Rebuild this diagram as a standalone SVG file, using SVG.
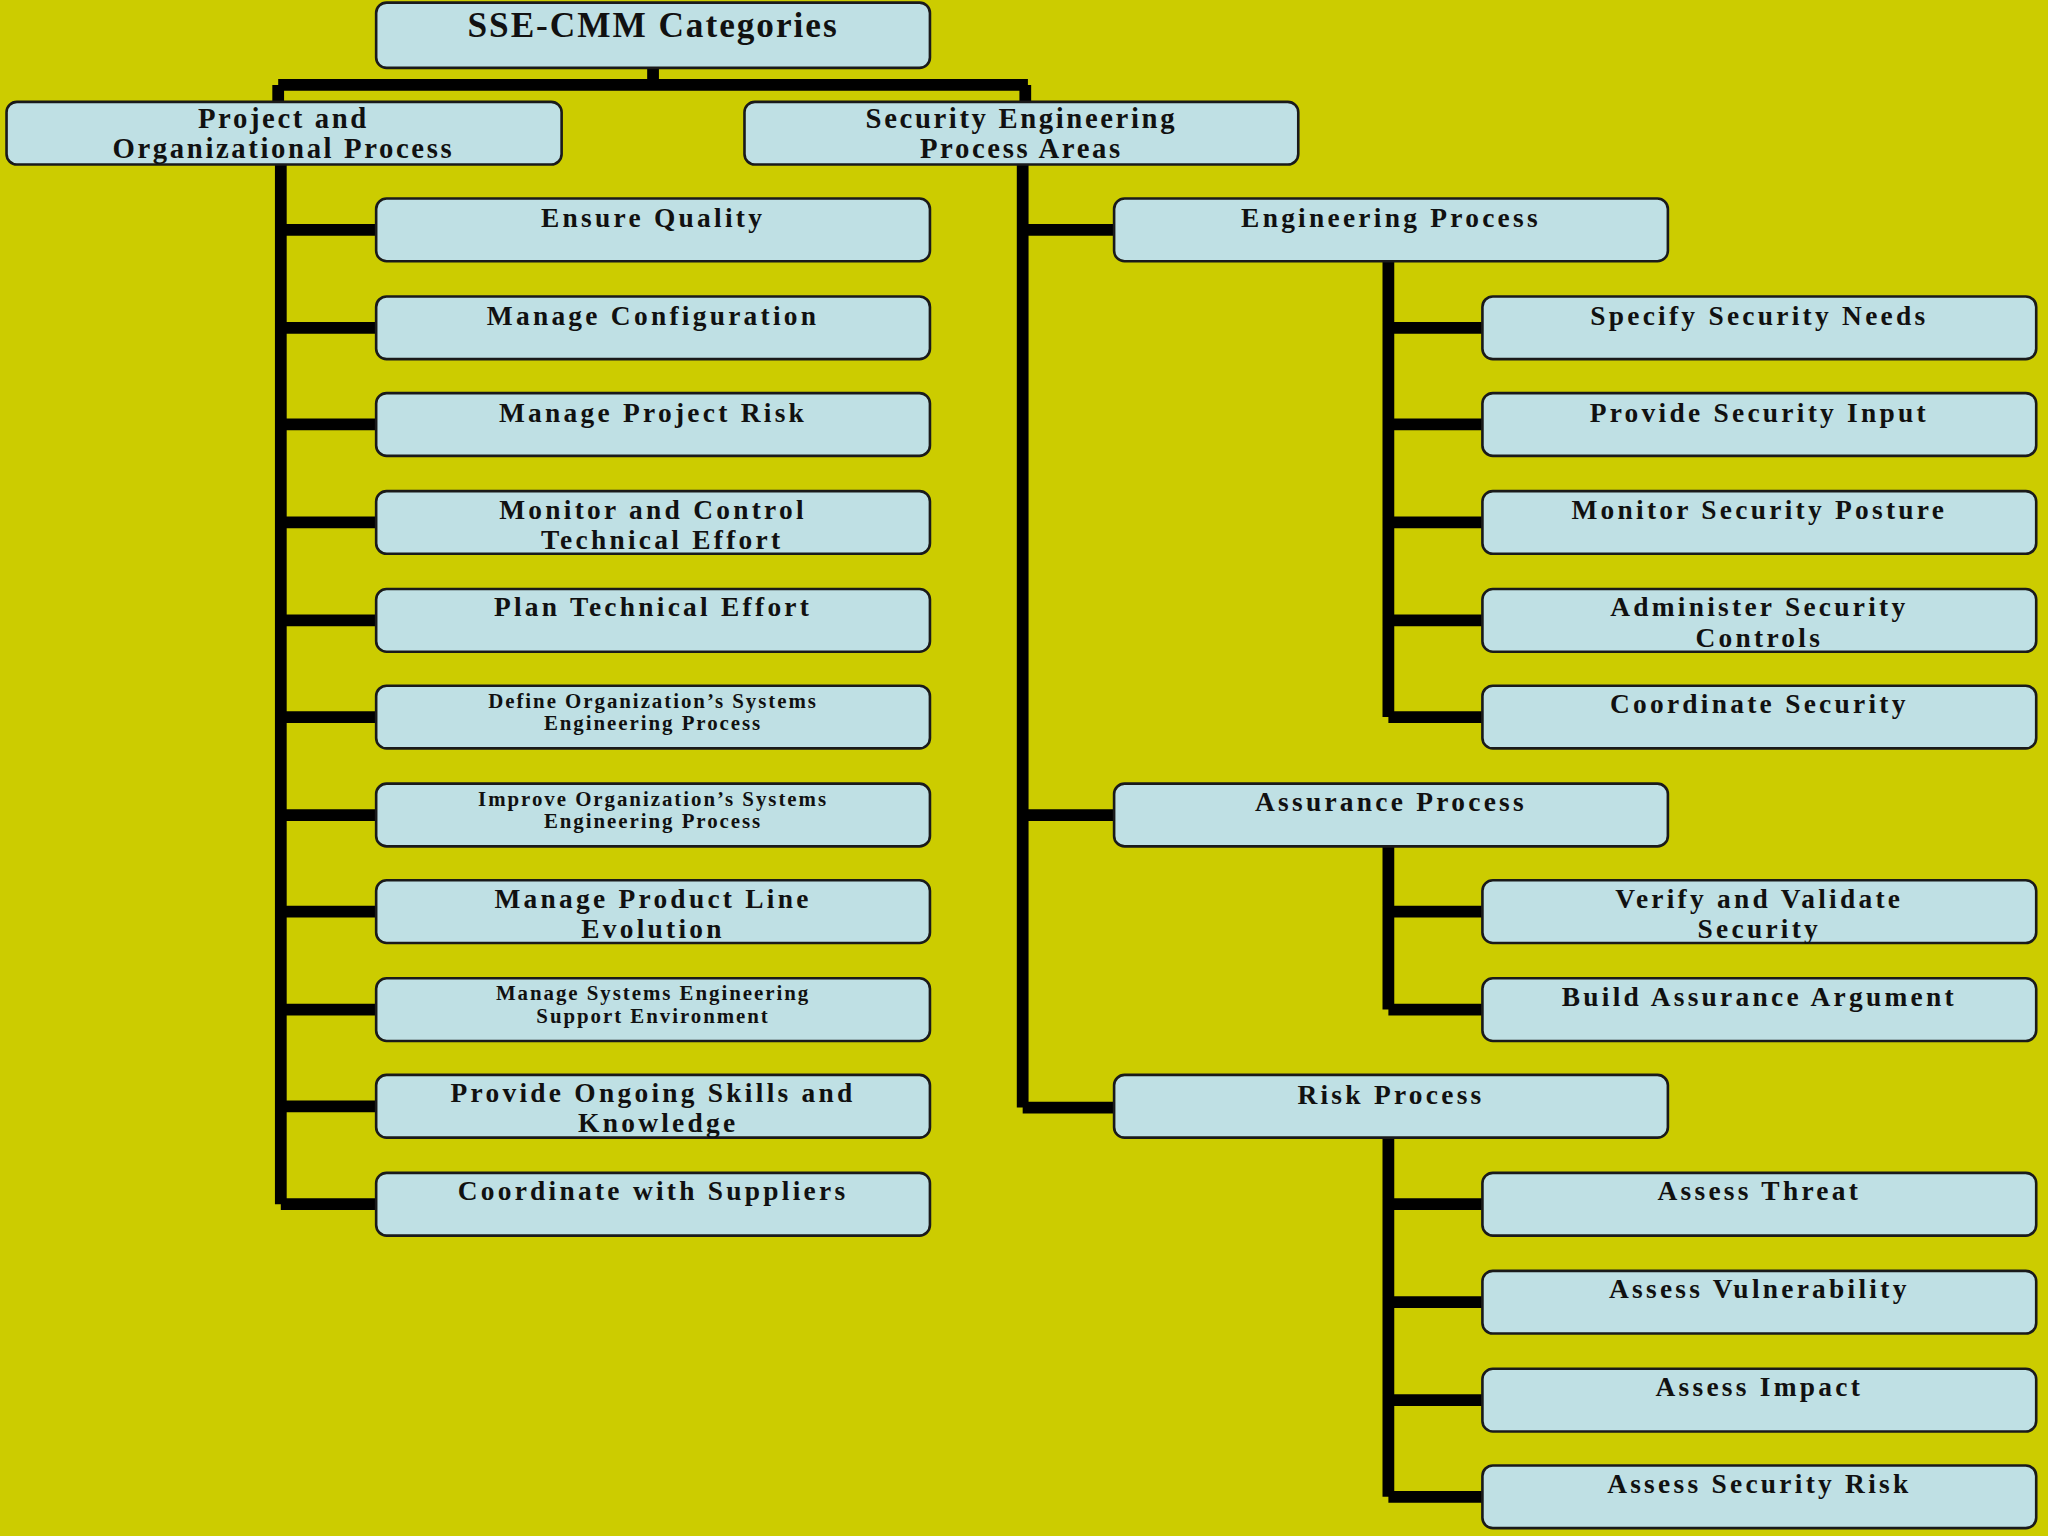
<svg xmlns="http://www.w3.org/2000/svg" width="2048" height="1536" viewBox="0 0 2048 1536">
<style>
.b{fill:#bfe0e4;stroke:#1a1a1a;stroke-width:2}
text{font-family:"Liberation Serif","Times New Roman",serif;font-size:21px;text-anchor:middle;fill:#111;letter-spacing:2.5px;font-weight:600}
.s{font-size:16px;letter-spacing:1.5px}
.h{font-size:22px;font-weight:bold;letter-spacing:2px}
.c{stroke:#000;stroke-width:9;fill:none}
</style>
<rect width="2048" height="1536" fill="#cccc00"/>
<g transform="scale(1.3061)">
<g id="connectors" class="c">
<path d="M500 52V65M213 65H787M213 65V78M785 65V78"/>
<path d="M215 126V922M215 176H288M215 251H288M215 325H288M215 400H288M215 475H288M215 549H288M215 624H288M215 698H288M215 773H288M215 847H288M215 922H288"/>
<path d="M783 126V848M783 176H853M783 624H853M783 848H853"/>
<path d="M1063 200V549M1063 251H1135M1063 325H1135M1063 400H1135M1063 475H1135M1063 549H1135"/>
<path d="M1063 648V773M1063 698H1135M1063 773H1135"/>
<path d="M1063 872V1146M1063 922H1135M1063 997H1135M1063 1072H1135M1063 1146H1135"/>
</g>
<g id="title"><rect class="b" x="288" y="2" width="424" height="50" rx="8"/><text class="h" x="500" y="28" style="font-size:27px;letter-spacing:1.5px">SSE-CMM Categories</text></g>
<g id="poph"><rect class="b" x="5" y="78" width="425" height="48" rx="8"/><text class="h" x="217" y="98">Project and</text><text class="h" x="217" y="121">Organizational Process</text></g>
<g id="seph"><rect class="b" x="570" y="78" width="424" height="48" rx="8"/><text class="h" x="782" y="98">Security Engineering</text><text class="h" x="782" y="121">Process Areas</text></g>
<g id="l1"><rect class="b" x="288" y="152" width="424" height="48" rx="8"/><text x="500" y="174">Ensure Quality</text></g>
<g id="l2"><rect class="b" x="288" y="227" width="424" height="48" rx="8"/><text x="500" y="249">Manage Configuration</text></g>
<g id="l3"><rect class="b" x="288" y="301" width="424" height="48" rx="8"/><text x="500" y="323">Manage Project Risk</text></g>
<g id="l4"><rect class="b" x="288" y="376" width="424" height="48" rx="8"/><text x="500" y="397">Monitor and Control</text><text x="507" y="420">Technical  Effort</text></g>
<g id="l5"><rect class="b" x="288" y="451" width="424" height="48" rx="8"/><text x="500" y="472">Plan Technical Effort</text></g>
<g id="l6"><rect class="b" x="288" y="525" width="424" height="48" rx="8"/><text class="s" x="500" y="542">Define Organization’s Systems</text><text class="s" x="500" y="559">Engineering Process</text></g>
<g id="l7"><rect class="b" x="288" y="600" width="424" height="48" rx="8"/><text class="s" x="500" y="617">Improve Organization’s Systems</text><text class="s" x="500" y="634">Engineering Process</text></g>
<g id="l8"><rect class="b" x="288" y="674" width="424" height="48" rx="8"/><text x="500" y="695">Manage Product Line</text><text x="500" y="718">Evolution</text></g>
<g id="l9"><rect class="b" x="288" y="749" width="424" height="48" rx="8"/><text class="s" x="500" y="766">Manage Systems Engineering</text><text class="s" x="500" y="783">Support Environment</text></g>
<g id="l10"><rect class="b" x="288" y="823" width="424" height="48" rx="8"/><text x="500" y="844">Provide Ongoing Skills and</text><text x="504" y="867">Knowledge</text></g>
<g id="l11"><rect class="b" x="288" y="898" width="424" height="48" rx="8"/><text x="500" y="919">Coordinate with Suppliers</text></g>
<g id="eng"><rect class="b" x="853" y="152" width="424" height="48" rx="8"/><text x="1065" y="174">Engineering Process</text></g>
<g id="asp"><rect class="b" x="853" y="600" width="424" height="48" rx="8"/><text x="1065" y="621">Assurance Process</text></g>
<g id="rsk"><rect class="b" x="853" y="823" width="424" height="48" rx="8"/><text x="1065" y="845">Risk Process</text></g>
<g id="r1"><rect class="b" x="1135" y="227" width="424" height="48" rx="8"/><text x="1347" y="249">Specify Security Needs</text></g>
<g id="r2"><rect class="b" x="1135" y="301" width="424" height="48" rx="8"/><text x="1347" y="323">Provide Security Input</text></g>
<g id="r3"><rect class="b" x="1135" y="376" width="424" height="48" rx="8"/><text x="1347" y="397">Monitor Security Posture</text></g>
<g id="r4"><rect class="b" x="1135" y="451" width="424" height="48" rx="8"/><text x="1347" y="472">Administer Security</text><text x="1347" y="495">Controls</text></g>
<g id="r5"><rect class="b" x="1135" y="525" width="424" height="48" rx="8"/><text x="1347" y="546">Coordinate Security</text></g>
<g id="r6"><rect class="b" x="1135" y="674" width="424" height="48" rx="8"/><text x="1347" y="695">Verify and Validate</text><text x="1347" y="718">Security</text></g>
<g id="r7"><rect class="b" x="1135" y="749" width="424" height="48" rx="8"/><text x="1347" y="770">Build Assurance Argument</text></g>
<g id="r8"><rect class="b" x="1135" y="898" width="424" height="48" rx="8"/><text x="1347" y="919">Assess Threat</text></g>
<g id="r9"><rect class="b" x="1135" y="973" width="424" height="48" rx="8"/><text x="1347" y="994">Assess Vulnerability</text></g>
<g id="r10"><rect class="b" x="1135" y="1048" width="424" height="48" rx="8"/><text x="1347" y="1069">Assess Impact</text></g>
<g id="r11"><rect class="b" x="1135" y="1122" width="424" height="48" rx="8"/><text x="1347" y="1143">Assess Security Risk</text></g>
</g>
</svg>
